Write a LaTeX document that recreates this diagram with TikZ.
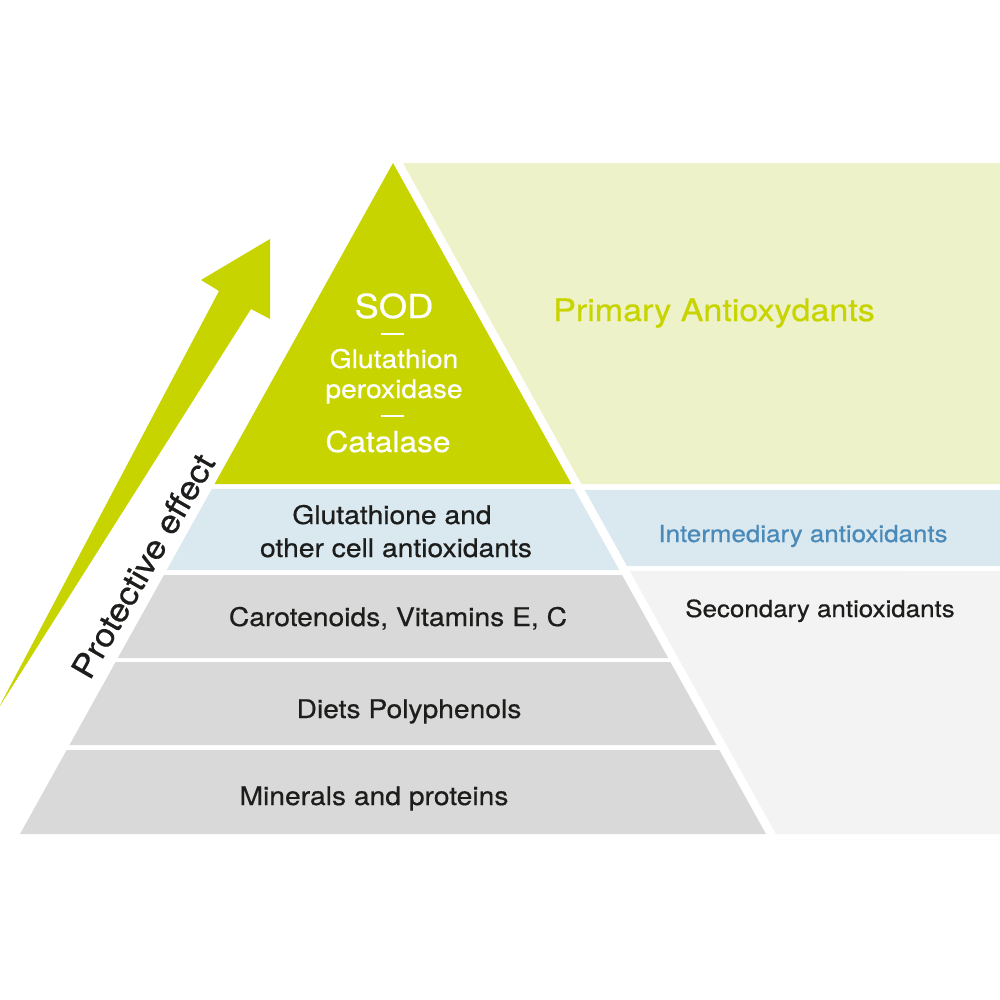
\documentclass[tikz,border=0pt]{standalone}
\usepackage{fontspec}
\setmainfont{TeX Gyre Heros}[FakeStretch=1.1, FakeBold=0.6]
\usetikzlibrary{calc}

\definecolor{limegreen}{RGB}{200,212,0}
\definecolor{limepale}{RGB}{238,242,200}
\definecolor{cellblue}{RGB}{218,232,240}
\definecolor{textblue}{RGB}{74,138,185}
\definecolor{bandgray}{RGB}{217,217,217}
\definecolor{panelgray}{RGB}{243,243,243}
\definecolor{inkblack}{RGB}{29,29,27}

\begin{document}
\begin{tikzpicture}[
    x=0.01cm, y=-0.01cm,
    lbl/.style={font=\fontsize{7.3}{9}\selectfont, text=inkblack, inner sep=0pt, anchor=base},
    sidelbl/.style={lbl, font=\fontsize{6.7}{8}\selectfont},
    sodtxt/.style={lbl, text=white},
    sepline/.style={white, line width=0.6pt},
]
\fill[white] (0,0) rectangle (1000,1000);
\useasboundingbox (0,0) rectangle (1000,1000);

% pyramid and side panels
\coordinate (apex) at (393,163);
\coordinate (bl) at (20,834);
\coordinate (br) at (766,834);
\coordinate (ptop) at (403,163);
\coordinate (pbot) at (776,834);

\fill[limepale] (ptop) -- (1000,163) -- (1000,484) -- ($(ptop)!0.4784!(pbot)$) -- cycle;
\fill[cellblue] ($(ptop)!0.4873!(pbot)$) -- (1000,490) -- (1000,566) -- ($(ptop)!0.6006!(pbot)$) -- cycle;
\fill[panelgray] ($(ptop)!0.6080!(pbot)$) -- (1000,571) -- (1000,834) -- (pbot) -- cycle;

\fill[limegreen] (apex) -- ($(apex)!0.4784!(br)$) -- ($(apex)!0.4784!(bl)$) -- cycle;
\foreach \ta/\tb/\col in {0.4858/0.6066/cellblue, 0.6140/0.7377/bandgray,
                          0.7437/0.8674/bandgray, 0.8748/1/bandgray}
  \fill[\col] ($(apex)!\ta!(bl)$) -- ($(apex)!\ta!(br)$) -- ($(apex)!\tb!(br)$) -- ($(apex)!\tb!(bl)$) -- cycle;

% arrow
\fill[limegreen] (-2,709) -- (219,291) -- (201,280) -- (270,239) -- (270,319) -- (251,309) -- cycle;

% top level
\node[sodtxt, font=\fontsize{9.4}{11}\selectfont] (sod) at (394,318) {SOD};
\node[sodtxt] (gpx1) at (394,368) {Glutathion};
\node[sodtxt] (gpx2) at (394,398) {peroxidase};
\node[sodtxt, font=\fontsize{8.2}{10}\selectfont] (cat) at (388,452) {Catalase};
\draw[sepline] (381,334) -- (404,334);
\draw[sepline] (381,416) -- (404,416);

\node[lbl, font=\fontsize{8.8}{10}\selectfont, text=limegreen] (primary) at (714,321) {Primary Antioxydants};

\node[lbl] (glu1) at (392,524) {Glutathione and};
\node[lbl] (glu2) at (396,557) {other cell antioxidants};
\node[sidelbl, text=textblue] (inter) at (803,542) {Intermediary antioxidants};

\node[lbl] (caro) at (398,626) {Carotenoids, Vitamins E, C};
\node[sidelbl] (second) at (820,617) {Secondary antioxidants};
\node[lbl] (poly) at (409,718) {Diets Polyphenols};
\node[lbl] (mineral) at (374,805) {Minerals and proteins};

\node[lbl, font=\fontsize{9.2}{10}\selectfont, rotate=60, anchor=center] (effect) at (143,566) {Protective effect};
\end{tikzpicture}
\end{document}
